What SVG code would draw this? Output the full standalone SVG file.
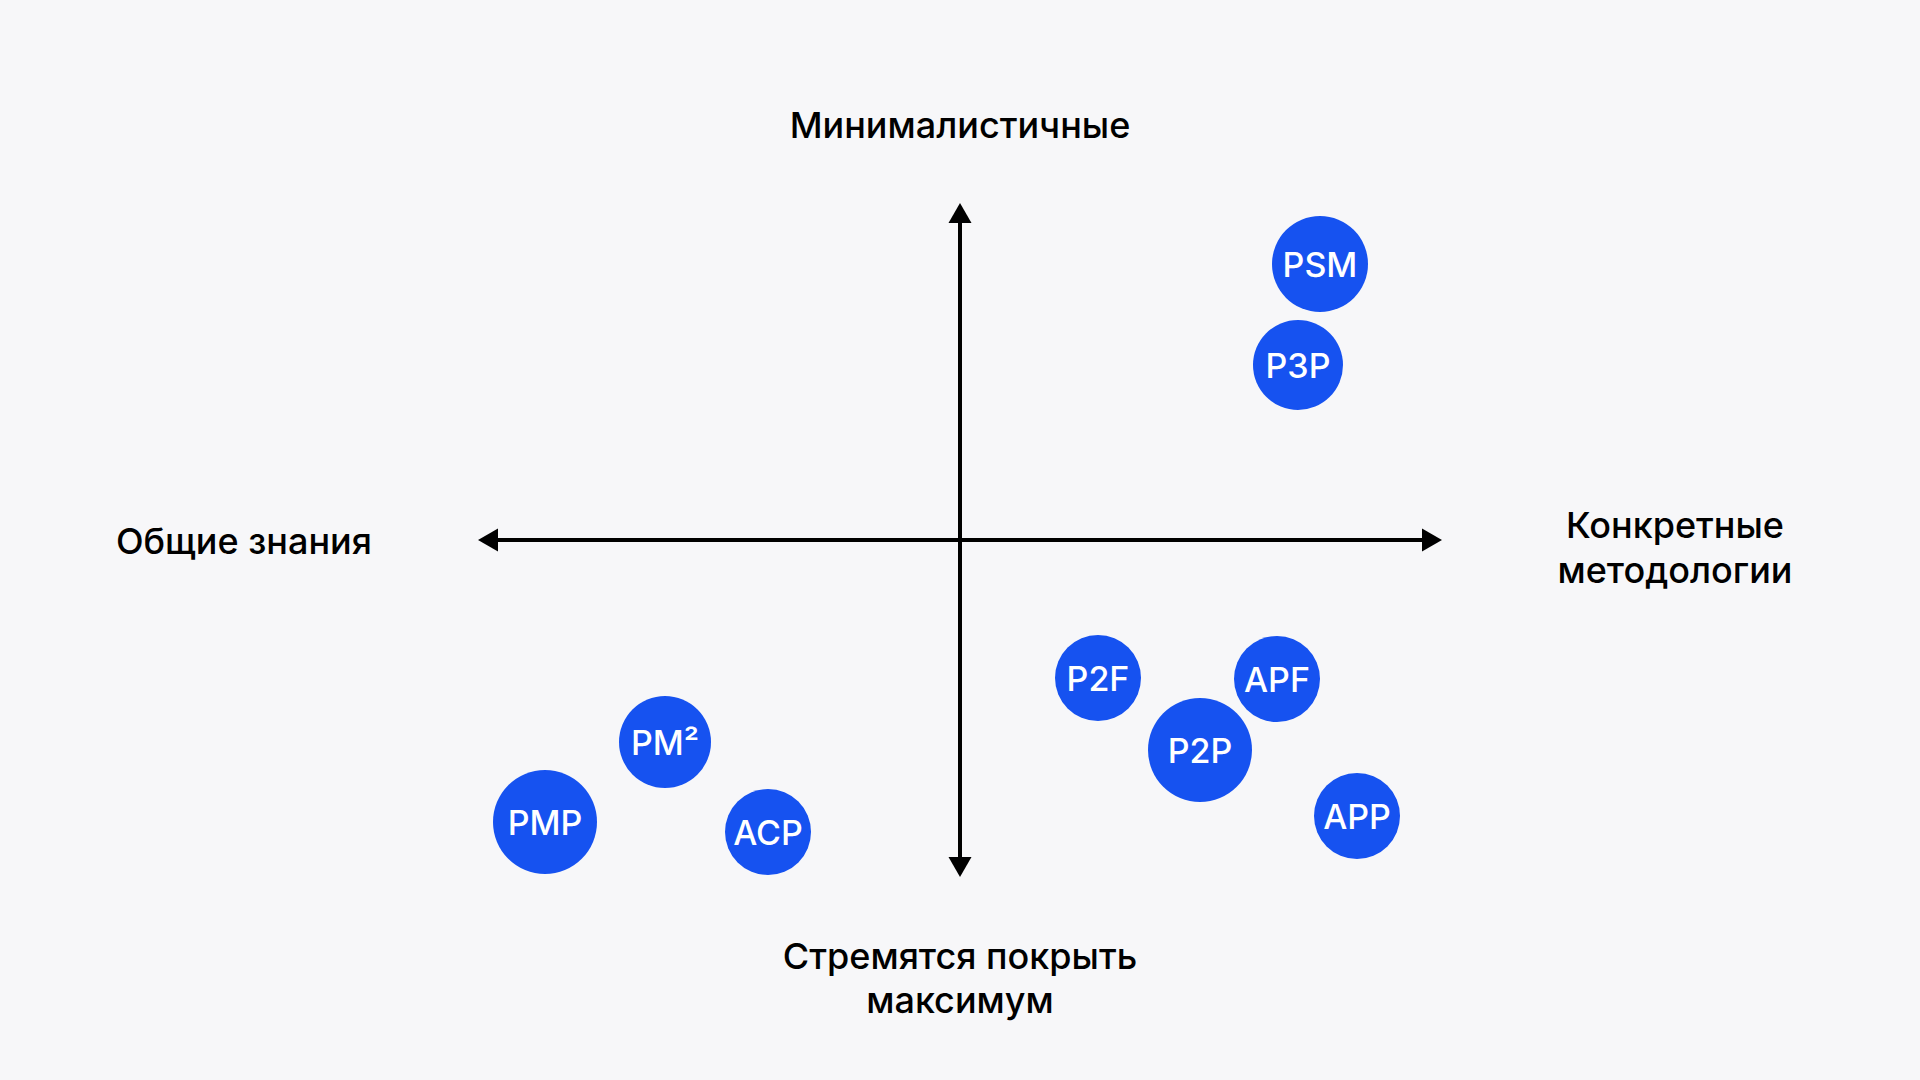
<svg xmlns="http://www.w3.org/2000/svg" width="1920" height="1080" viewBox="0 0 1920 1080">
  <defs>
    <style>
      .bg { fill: #F7F7F9; }
      .axis { stroke: #000000; stroke-width: 4; fill: none; }
      .head { fill: #000000; }
      .label { font-family: Inter, "Open Sans", "Liberation Sans", sans-serif; font-size: 36px; font-weight: 500; fill: #000000; text-anchor: middle; }
      .node circle { fill: #1652F0; }
      .node text { font-family: Inter, "Open Sans", "Liberation Sans", sans-serif; font-size: 34px; font-weight: 500; fill: #FFFFFF; text-anchor: middle; }
    </style>
  </defs>
  <rect class="bg" x="0" y="0" width="1920" height="1080"/>

  <g id="connectors">
    <line class="axis" x1="495" y1="540" x2="1425" y2="540"/>
    <line class="axis" x1="960" y1="220" x2="960" y2="860"/>
    <polygon class="head" points="478,540 498,528.5 498,551.5"/>
    <polygon class="head" points="1442,540 1422,528.5 1422,551.5"/>
    <polygon class="head" points="960,203 948.5,223 971.5,223"/>
    <polygon class="head" points="960,877 948.5,857 971.5,857"/>
  </g>

  <g id="axis-labels">
    <text id="label-top" class="label" x="960" y="138">Минималистичные</text>
    <text id="label-left" class="label" x="244" y="554">Общие знания</text>
    <text id="label-right" class="label" x="1675" y="538">Конкретные<tspan x="1675" y="582.5">методологии</tspan></text>
    <text id="label-bottom" class="label" x="960" y="969">Стремятся покрыть<tspan x="960" y="1013">максимум</tspan></text>
  </g>

  <g id="node-psm" class="node"><circle cx="1320" cy="264" r="48"/><text x="1320" y="276.5">PSM</text></g>
  <g id="node-p3p" class="node"><circle cx="1298" cy="365" r="45"/><text x="1298" y="377.5">P3P</text></g>
  <g id="node-p2f" class="node"><circle cx="1098" cy="678" r="43"/><text x="1098" y="690.5">P2F</text></g>
  <g id="node-apf" class="node"><circle cx="1277" cy="679" r="43"/><text x="1277" y="691.5">APF</text></g>
  <g id="node-p2p" class="node"><circle cx="1200" cy="750" r="52"/><text x="1200" y="762.5">P2P</text></g>
  <g id="node-app" class="node"><circle cx="1357" cy="816" r="43"/><text x="1357" y="828.5">APP</text></g>
  <g id="node-pm2" class="node"><circle cx="665" cy="742" r="46"/><text x="665" y="754.5">PM²</text></g>
  <g id="node-pmp" class="node"><circle cx="545" cy="822" r="52"/><text x="545" y="834.5">PMP</text></g>
  <g id="node-acp" class="node"><circle cx="768" cy="832" r="43"/><text x="768" y="844.5">ACP</text></g>
</svg>
